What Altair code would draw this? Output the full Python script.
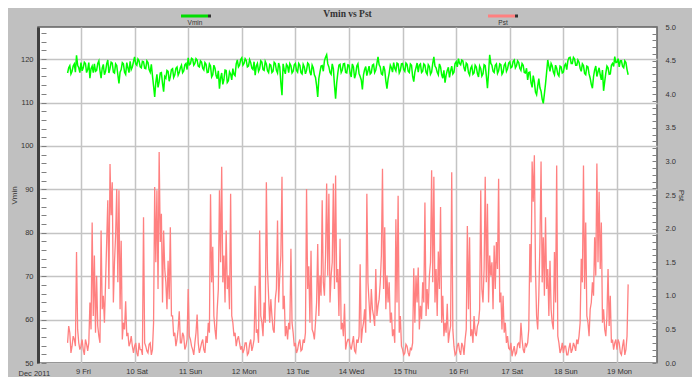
import altair as alt
import pandas as pd

# ---- data: readings every 30 minutes, first reading 2011-12-08 18:00 ----
# "hourly" lists hold the readings on the hour, "half" lists the readings at hh:30
start_time = "2011-12-08 18:00"

vmin_d08 = [116.8, 118.5, 117.2, 118.9, 120.9, 118.0]
vmin_d09 = [119.2, 118.0, 119.0, 117.6, 115.6, 118.4, 118.9, 117.4, 119.6, 115.6, 118.8, 117.2,
            119.8, 117.9, 119.1, 116.8, 118.5, 114.4, 117.6, 118.9, 116.5, 118.0, 119.5, 118.2]
vmin_d10 = [120.5, 118.6, 119.6, 118.0, 119.4, 117.8, 119.2, 117.0, 116.2, 111.3, 116.5, 114.8,
            116.9, 112.5, 115.6, 117.2, 116.0, 117.8, 116.4, 118.2, 116.9, 118.6, 117.3, 119.0]
vmin_d11 = [120.3, 118.9, 120.0, 119.0, 119.8, 118.2, 119.3, 117.5, 118.8, 117.0, 118.4, 116.4,
            117.9, 115.5, 113.2, 116.8, 115.3, 117.4, 115.0, 116.6, 117.8, 116.2, 119.8, 118.6]
vmin_d12 = [120.3, 119.0, 119.7, 118.4, 119.2, 117.6, 116.3, 119.0, 117.8, 119.3, 117.4, 118.9,
            116.9, 118.6, 117.2, 119.0, 116.8, 118.2, 111.7, 117.5, 118.8, 116.9, 118.5, 117.2]
vmin_d13 = [119.0, 117.0, 118.6, 116.6, 118.2, 117.4, 118.8, 116.3, 118.0, 115.8, 111.3, 117.0,
            118.5, 119.6, 121.0, 118.2, 116.5, 117.8, 110.9, 116.8, 118.8, 117.5, 119.0, 116.8]
vmin_d14 = [118.6, 115.9, 118.2, 116.5, 118.9, 116.0, 113.0, 117.6, 116.2, 118.4, 116.9, 118.8,
            117.5, 120.5, 118.2, 116.4, 117.5, 113.2, 116.8, 118.0, 119.2, 117.3, 118.9, 117.4]
vmin_d15 = [119.0, 117.2, 118.8, 116.9, 118.6, 114.8, 118.0, 117.0, 118.9, 117.2, 118.6, 116.5,
            118.3, 117.0, 120.5, 118.0, 116.4, 118.2, 115.6, 114.6, 117.4, 115.8, 118.4, 117.0]
vmin_d16 = [119.4, 120.1, 118.7, 119.6, 117.2, 118.8, 116.3, 118.4, 116.8, 118.2, 115.9, 117.8,
            116.6, 118.5, 113.3, 121.0, 118.6, 116.9, 118.9, 117.3, 118.7, 117.0, 119.0, 117.8]
vmin_d17 = [119.4, 118.2, 119.8, 118.5, 119.2, 117.4, 118.6, 116.8, 115.2, 117.0, 113.5, 114.8,
            111.8, 115.5, 112.6, 109.8, 114.3, 119.8, 117.2, 118.4, 116.4, 117.9, 116.1, 118.2]
vmin_d18 = [117.0, 118.9, 119.6, 120.4, 119.0, 120.0, 118.6, 119.3, 117.2, 118.5, 116.4, 118.2,
            115.6, 113.3, 117.5, 116.0, 118.0, 115.2, 112.7, 116.8, 118.0, 116.6, 119.0, 120.6]
vmin_d19 = [119.3, 118.2, 119.6, 118.0, 119.2, 116.4]

vmin_half_d08 = [118.0, 116.6, 118.4, 117.0, 118.6, 116.9]
vmin_half_d09 = [117.3, 119.3, 116.9, 119.2, 117.8, 116.9, 117.2, 119.0, 117.3, 117.9, 116.4, 118.9,
                 116.8, 119.3, 117.0, 118.9, 116.4, 117.0, 119.2, 117.0, 119.2, 116.9, 117.6, 119.4]
vmin_half_d10 = [118.9, 120.0, 118.2, 119.5, 117.9, 119.6, 117.6, 118.8, 113.8, 114.6, 113.5, 116.8,
                 114.4, 116.0, 117.4, 114.9, 117.6, 115.8, 117.9, 116.3, 118.0, 116.9, 118.7, 117.6]
vmin_half_d11 = [118.7, 120.2, 118.6, 120.1, 118.4, 119.6, 117.9, 119.2, 116.9, 118.9, 115.9, 118.6,
                 116.2, 117.3, 115.6, 114.2, 117.5, 114.6, 117.1, 115.2, 116.5, 118.9, 118.2, 119.9]
vmin_half_d12 = [118.6, 120.1, 118.2, 119.9, 117.9, 119.4, 118.4, 117.2, 119.6, 117.6, 119.5, 117.3,
                 118.8, 116.9, 119.3, 117.4, 119.1, 114.5, 118.9, 116.6, 118.4, 119.0, 116.8, 118.7]
vmin_half_d13 = [117.4, 119.0, 116.9, 118.8, 116.6, 119.1, 117.0, 118.6, 116.4, 113.9, 115.5, 118.4,
                 117.2, 120.4, 118.9, 116.9, 118.9, 114.0, 114.5, 118.6, 116.9, 118.9, 116.9, 118.7]
vmin_half_d14 = [116.8, 118.9, 115.6, 118.4, 116.7, 115.2, 116.4, 118.3, 117.3, 116.6, 118.6, 116.9,
                 119.0, 118.7, 116.6, 118.4, 115.0, 115.4, 118.6, 117.0, 117.9, 119.1, 116.8, 118.9]
vmin_half_d15 = [117.6, 119.1, 117.2, 118.9, 116.0, 117.0, 119.1, 118.6, 116.9, 118.9, 117.0, 118.7,
                 116.5, 119.0, 118.4, 117.0, 118.9, 116.4, 117.4, 116.3, 118.1, 117.3, 116.6, 119.0]
vmin_half_d16 = [118.2, 119.0, 119.8, 118.0, 119.1, 116.9, 117.9, 116.5, 118.6, 116.7, 118.4, 116.1,
                 118.7, 116.2, 116.8, 119.0, 117.2, 118.6, 116.7, 118.9, 116.5, 118.6, 117.2, 119.1]
vmin_half_d17 = [118.0, 119.5, 118.0, 119.6, 117.9, 119.0, 116.9, 117.9, 116.9, 114.6, 116.2, 112.4,
                 113.8, 113.4, 110.8, 112.0, 117.0, 118.4, 119.0, 117.0, 118.6, 116.5, 118.4, 116.8]
vmin_half_d18 = [118.5, 117.6, 120.3, 119.0, 120.4, 118.6, 119.8, 117.9, 118.9, 116.7, 118.4, 116.6,
                 114.2, 116.0, 118.4, 117.1, 116.4, 117.5, 114.8, 118.4, 116.5, 118.6, 118.3, 119.2]
vmin_half_d19 = [120.1, 119.6, 118.3, 119.6, 117.6]

pst_d08 = [0.30, 0.45, 0.25, 0.35, 1.65, 0.30]
pst_d09 = [0.25, 0.20, 0.35, 0.18, 0.90, 2.09, 1.60, 1.30, 0.40, 1.97, 1.00, 1.20,
           2.42, 2.96, 2.69, 1.50, 2.59, 2.57, 1.82, 0.60, 0.92, 0.45, 0.30, 0.25]
pst_d10 = [0.25, 0.15, 0.30, 0.20, 2.17, 0.25, 0.15, 0.30, 0.20, 2.62, 2.57, 3.14,
           2.22, 1.97, 1.20, 1.52, 2.02, 0.70, 0.45, 0.35, 0.77, 0.30, 0.40, 0.25]
pst_d11 = [1.10, 0.35, 0.20, 0.30, 0.72, 0.15, 0.30, 0.20, 0.40, 0.60, 2.51, 1.73,
           0.50, 0.80, 2.57, 2.92, 1.60, 1.97, 1.30, 2.52, 0.60, 0.45, 0.35, 0.30]
pst_d12 = [0.25, 0.20, 0.30, 0.15, 0.35, 0.25, 1.15, 0.50, 1.97, 0.60, 0.90, 2.69,
           1.00, 0.95, 0.50, 0.95, 2.12, 1.30, 2.77, 1.00, 0.55, 0.60, 1.70, 0.45]
pst_d13 = [0.30, 0.20, 0.35, 0.20, 0.30, 2.59, 1.44, 1.67, 0.45, 0.60, 1.77, 1.30,
           2.42, 1.00, 2.67, 2.52, 1.30, 2.67, 2.79, 1.40, 1.85, 0.60, 0.88, 0.30]
pst_d14 = [0.35, 0.20, 0.40, 0.15, 0.30, 1.47, 0.50, 0.80, 2.52, 0.90, 1.10, 0.70,
           1.40, 0.85, 1.20, 2.89, 2.02, 1.30, 1.20, 0.75, 0.50, 2.14, 2.49, 0.70]
pst_d15 = [0.20, 0.15, 0.25, 0.10, 0.20, 1.41, 1.30, 1.42, 0.85, 1.20, 2.39, 1.10,
           1.30, 2.87, 2.77, 1.40, 1.66, 2.32, 1.00, 0.60, 0.88, 0.45, 2.84, 0.25]
pst_d16 = [0.15, 0.30, 0.12, 0.25, 0.35, 2.04, 1.87, 0.50, 0.70, 0.40, 0.60, 2.57,
           0.90, 2.77, 2.37, 1.60, 1.50, 1.75, 1.80, 2.74, 1.05, 1.00, 0.60, 0.40]
pst_d17 = [0.20, 0.10, 0.25, 0.15, 0.30, 0.60, 0.20, 0.30, 0.30, 1.77, 3.00, 3.09,
           0.70, 1.00, 3.00, 1.87, 2.17, 1.40, 1.52, 0.60, 1.65, 2.94, 0.30, 0.20]
pst_d18 = [0.15, 0.25, 0.12, 0.30, 0.20, 0.25, 0.35, 0.40, 1.55, 2.94, 2.09, 0.60,
           0.80, 1.20, 1.87, 2.97, 2.55, 2.09, 0.80, 0.40, 1.40, 1.00, 0.35, 0.30]
pst_d19 = [0.20, 0.30, 0.12, 0.35, 0.20, 1.17]

pst_half_d08 = [0.55, 0.15, 0.40, 0.25, 0.50, 0.20]
pst_half_d09 = [0.35, 0.12, 0.28, 0.30, 0.50, 0.70, 0.45, 0.55, 0.30, 0.80, 0.60, 1.80,
                1.10, 2.20, 0.90, 1.90, 1.20, 0.80, 0.35, 0.50, 0.40, 0.25, 0.40, 0.15]
pst_half_d10 = [0.30, 0.10, 0.20, 0.12, 0.30, 0.18, 0.28, 0.12, 0.60, 1.50, 1.10, 1.80,
                0.90, 1.40, 0.80, 0.95, 0.70, 0.40, 0.25, 0.50, 0.30, 0.45, 0.20, 0.35]
pst_half_d11 = [0.40, 0.25, 0.12, 0.45, 0.30, 0.22, 0.35, 0.15, 0.30, 0.45, 1.20, 0.70,
                0.35, 1.10, 1.50, 1.20, 0.90, 1.10, 0.80, 0.70, 0.40, 0.25, 0.40, 0.20]
pst_half_d12 = [0.15, 0.30, 0.12, 0.28, 0.18, 0.35, 0.45, 0.30, 0.70, 0.40, 0.60, 1.40,
                0.60, 0.70, 0.45, 1.10, 0.90, 1.60, 0.80, 0.40, 0.35, 0.50, 0.60, 0.25]
pst_half_d13 = [0.15, 0.30, 0.18, 0.35, 0.45, 1.10, 0.60, 0.50, 0.35, 0.90, 0.70, 1.00,
                1.20, 1.60, 1.30, 0.90, 1.50, 1.10, 1.20, 0.70, 0.50, 0.40, 0.20, 0.35]
pst_half_d14 = [0.25, 0.30, 0.18, 0.35, 0.40, 0.30, 0.60, 0.45, 1.20, 0.60, 0.80, 0.55,
                0.70, 0.95, 1.60, 1.10, 0.80, 0.90, 0.60, 0.40, 0.30, 0.90, 0.45, 0.25]
pst_half_d15 = [0.12, 0.28, 0.15, 0.22, 0.30, 0.60, 0.90, 0.50, 0.65, 0.90, 0.70, 0.80,
                1.50, 1.20, 0.90, 0.70, 1.10, 0.60, 0.40, 0.45, 0.30, 0.55, 0.50, 0.12]
pst_half_d16 = [0.25, 0.18, 0.30, 0.12, 0.50, 0.80, 0.40, 0.30, 0.45, 0.55, 0.80, 1.10,
                1.40, 1.20, 0.90, 1.30, 0.80, 1.10, 1.40, 0.90, 0.50, 0.45, 0.30, 0.22]
pst_half_d17 = [0.30, 0.18, 0.12, 0.28, 0.22, 0.35, 0.15, 0.25, 0.50, 1.20, 2.40, 1.40,
                0.50, 1.80, 1.20, 1.00, 1.10, 0.70, 0.80, 0.50, 0.90, 0.40, 0.15, 0.30]
pst_half_d18 = [0.25, 0.12, 0.22, 0.15, 0.30, 0.18, 0.28, 0.60, 1.20, 1.10, 0.70, 0.40,
                0.90, 1.00, 1.30, 1.50, 1.40, 0.60, 0.50, 0.70, 0.55, 0.30, 0.20, 0.35]
pst_half_d19 = [0.35, 0.15, 0.25, 0.12, 0.40]

tick_days = [9, 10, 11, 12, 13, 14, 15, 16, 17, 18, 19]
vmin_ticks = [50, 60, 70, 80, 90, 100, 110, 120]
vmin_minor = list(range(50, 128, 2))
pst_ticks = [0.0, 0.5, 1.0, 1.5, 2.0, 2.5, 3.0, 3.5, 4.0, 4.5, 5.0]
pst_minor = [i / 10 for i in range(0, 51)]


def interleave(on_hour, at_half):
    out = []
    for i, v in enumerate(on_hour):
        out.append(v)
        if i < len(at_half):
            out.append(at_half[i])
    return out


vmin_values = interleave(
    vmin_d08 + vmin_d09 + vmin_d10 + vmin_d11 + vmin_d12 + vmin_d13 +
    vmin_d14 + vmin_d15 + vmin_d16 + vmin_d17 + vmin_d18 + vmin_d19,
    vmin_half_d08 + vmin_half_d09 + vmin_half_d10 + vmin_half_d11 + vmin_half_d12 +
    vmin_half_d13 + vmin_half_d14 + vmin_half_d15 + vmin_half_d16 + vmin_half_d17 +
    vmin_half_d18 + vmin_half_d19)
pst_values = interleave(
    pst_d08 + pst_d09 + pst_d10 + pst_d11 + pst_d12 + pst_d13 +
    pst_d14 + pst_d15 + pst_d16 + pst_d17 + pst_d18 + pst_d19,
    pst_half_d08 + pst_half_d09 + pst_half_d10 + pst_half_d11 + pst_half_d12 +
    pst_half_d13 + pst_half_d14 + pst_half_d15 + pst_half_d16 + pst_half_d17 +
    pst_half_d18 + pst_half_d19)


def series_frame(values, name):
    t = pd.date_range(start_time, periods=len(values), freq="30min")
    return pd.DataFrame({"time": t.strftime("%Y-%m-%dT%H:%M:%S"), name: values})


vdf = series_frame(vmin_values, "vmin")
pdf = series_frame(pst_values, "pst")

LABEL_FONT = "Liberation Sans"
TXT = "#333333"
GRID = "#c4c4c4"

x_dom = [alt.DateTime(year=2011, month=12, date=8, hours=4, minutes=45),
         alt.DateTime(year=2011, month=12, date=19, hours=17, minutes=55)]
x_axis = alt.Axis(values=[alt.DateTime(year=2011, month=12, date=d) for d in tick_days],
                  format="%-d %a", grid=True, gridColor=GRID, gridWidth=1.5,
                  ticks=False, domain=False, labelFont=LABEL_FONT, labelFontSize=7.5,
                  labelColor=TXT, labelPadding=4, labelOffset=2,
                  title="Dec 2011", titleFont=LABEL_FONT, titleFontSize=7.5,
                  titleFontWeight="normal", titleColor=TXT, titleAnchor="start",
                  titleAlign="left", titleX=-20, titleY=12, titleBaseline="alphabetic")
x_enc = alt.X("time:T", scale=alt.Scale(domain=x_dom), axis=x_axis)
x_plain = alt.X("time:T", scale=alt.Scale(domain=x_dom))

v_scale = alt.Scale(domain=[50, 127.4], nice=False, zero=False)
p_scale = alt.Scale(domain=[0, 5], nice=False, zero=True)

vmin_line = alt.Chart(vdf).mark_line(color="#00ff00", strokeWidth=1.5).encode(
    x=x_enc,
    y=alt.Y("vmin:Q", scale=v_scale,
            axis=alt.Axis(orient="left", values=vmin_ticks, grid=True, gridColor=GRID,
                          gridWidth=1.5, ticks=False, domain=True, domainColor="#404040",
                          domainWidth=3, labelFont=LABEL_FONT, labelFontSize=7.5,
                          labelColor=TXT, labelPadding=5, title="Vmin",
                          titleFont=LABEL_FONT, titleFontSize=8, titleFontWeight="normal",
                          titleColor=TXT, titlePadding=2)),
)

pst_line = alt.Chart(pdf).mark_line(color="#ff8080", strokeWidth=1.3).encode(
    x=x_plain,
    y=alt.Y("pst:Q", scale=p_scale,
            axis=alt.Axis(orient="right", values=pst_ticks, format=".1f", grid=False,
                          ticks=False, domain=False, labelFont=LABEL_FONT,
                          labelFontSize=7.5, labelColor=TXT, labelPadding=8,
                          title="Pst", titleFont=LABEL_FONT, titleFontSize=8,
                          titleFontWeight="normal", titleColor=TXT, titlePadding=1)),
)

vmin_minor_axis = alt.Chart(vdf).mark_line(strokeOpacity=0).encode(
    x=x_plain,
    y=alt.Y("vmin:Q", scale=v_scale,
            axis=alt.Axis(orient="left", values=vmin_minor, labels=False, grid=False,
                          domain=False, ticks=True, tickSize=5, tickColor="#808080",
                          tickWidth=1, offset=-8, title=None)),
)

pst_minor_axis = alt.Chart(pdf).mark_line(strokeOpacity=0).encode(
    x=x_plain,
    y=alt.Y("pst:Q", scale=p_scale,
            axis=alt.Axis(orient="right", values=pst_minor, labels=False, grid=False,
                          domain=False, ticks=True, tickSize=4, tickColor="#808080",
                          tickWidth=1, offset=-5, title=None)),
)

legend_df = pd.DataFrame({"series": ["Vmin"]})
legend_df2 = pd.DataFrame({"series": ["Pst"]})

leg_v_line = alt.Chart(legend_df).mark_rule(color="#00dd00", strokeWidth=3).encode(
    x=alt.value(143), x2=alt.value(170), y=alt.value(-11))
leg_v_cap = alt.Chart(legend_df).mark_rule(color="#333333", strokeWidth=3).encode(
    x=alt.value(170), x2=alt.value(173), y=alt.value(-11))
leg_v_text = alt.Chart(legend_df).mark_text(font=LABEL_FONT, fontSize=6.5, color=TXT,
                                             baseline="middle").encode(
    x=alt.value(157), y=alt.value(-4), text="series:N")

leg_p_line = alt.Chart(legend_df2).mark_rule(color="#ff8080", strokeWidth=3).encode(
    x=alt.value(450), x2=alt.value(477), y=alt.value(-11))
leg_p_cap = alt.Chart(legend_df2).mark_rule(color="#333333", strokeWidth=3).encode(
    x=alt.value(477), x2=alt.value(480), y=alt.value(-11))
leg_p_text = alt.Chart(legend_df2).mark_text(font=LABEL_FONT, fontSize=6.5, color=TXT,
                                              baseline="middle").encode(
    x=alt.value(465), y=alt.value(-4), text="series:N")

chart = alt.layer(
    vmin_line, pst_line, vmin_minor_axis, pst_minor_axis,
    leg_v_line, leg_v_cap, leg_v_text, leg_p_line, leg_p_cap, leg_p_text,
).resolve_scale(
    y="independent"
).properties(
    width=619,
    height=336,
    title=alt.TitleParams("Vmin vs Pst", font="Liberation Serif", fontSize=9.5,
                          fontWeight="bold", color="#333333", anchor="middle", offset=-4),
    autosize=alt.AutoSizeParams(type="none"),
    padding={"left": 30, "top": 19, "right": 35, "bottom": 14},
    background="#c0c0c0",
).configure_view(
    fill="white", stroke="#606060", strokeWidth=1.5
)

chart.save("out.html", embed_options={"renderer": "svg", "actions": False})
